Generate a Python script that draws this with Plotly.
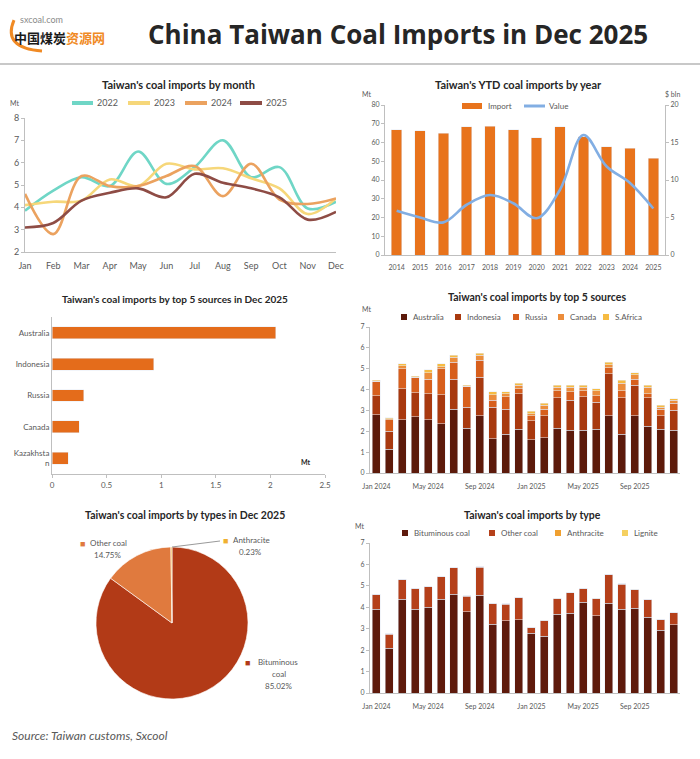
import plotly.graph_objects as go

W, H = 700, 759

# ---------------- DATA ----------------
months = ["Jan", "Feb", "Mar", "Apr", "May", "Jun", "Jul", "Aug", "Sep", "Oct", "Nov", "Dec"]
m2022 = [3.85, 4.75, 5.35, 4.95, 6.5, 5.05, 5.8, 7.0, 5.35, 5.8, 3.95, 4.25]
m2023 = [4.1, 4.25, 4.3, 5.25, 4.95, 5.95, 5.7, 5.75, 5.3, 4.85, 3.7, 4.4]
m2024 = [4.6, 2.8, 5.4, 4.95, 4.95, 5.4, 5.85, 4.5, 5.95, 4.35, 4.15, 4.4]
m2025 = [3.1, 3.3, 4.3, 4.65, 4.85, 4.45, 5.5, 5.1, 4.85, 4.45, 3.45, 3.8]

years = ["2014", "2015", "2016", "2017", "2018", "2019", "2020", "2021", "2022", "2023", "2024", "2025"]
ytd_import = [66.7, 66.3, 64.9, 68.4, 68.8, 66.7, 62.6, 68.4, 63.1, 57.8, 56.9, 51.6]
ytd_value = [5.9, 5.0, 4.35, 6.7, 8.0, 6.9, 4.9, 8.7, 16.0, 11.8, 9.6, 6.2]

dec_sources = ["Australia", "Indonesia", "Russia", "Canada", "Kazakhsta<br>n"]
dec_values = [2.05, 0.93, 0.29, 0.25, 0.15]

periods = ["Jan 2024", "Feb 2024", "Mar 2024", "Apr 2024", "May 2024", "Jun 2024",
           "Jul 2024", "Aug 2024", "Sep 2024", "Oct 2024", "Nov 2024", "Dec 2024",
           "Jan 2025", "Feb 2025", "Mar 2025", "Apr 2025", "May 2025", "Jun 2025",
           "Jul 2025", "Aug 2025", "Sep 2025", "Oct 2025", "Nov 2025", "Dec 2025"]
period_ticks = ["Jan 2024", "May 2024", "Sep 2024", "Jan 2025", "May 2025", "Sep 2025"]

src_australia = [2.8, 1.15, 2.55, 2.7, 2.55, 2.35, 3.05, 2.15, 2.75, 1.65, 1.85, 2.1,
                 1.6, 1.7, 2.15, 2.05, 2.05, 2.1, 2.75, 1.85, 2.75, 2.25, 2.1, 2.05]
src_indonesia = [0.9, 0.85, 1.5, 1.15, 1.25, 1.4, 1.45, 1.0, 1.85, 1.5, 1.2, 1.7,
                 0.9, 1.05, 1.45, 1.45, 1.6, 1.3, 2.0, 1.75, 1.45, 1.35, 0.65, 0.95]
src_russia = [0.7, 0.55, 0.95, 0.75, 0.7, 1.25, 0.8, 1.0, 0.8, 0.35, 0.6, 0.25,
              0.25, 0.3, 0.35, 0.4, 0.3, 0.3, 0.3, 0.35, 0.3, 0.2, 0.3, 0.35]
src_canada = [0.0, 0.05, 0.15, 0.0, 0.3, 0.1, 0.25, 0.0, 0.25, 0.25, 0.15, 0.15,
              0.1, 0.2, 0.15, 0.2, 0.15, 0.25, 0.15, 0.35, 0.2, 0.3, 0.1, 0.15]
src_safrica = [0.05, 0.05, 0.1, 0.05, 0.15, 0.15, 0.1, 0.05, 0.1, 0.15, 0.1, 0.1,
               0.1, 0.1, 0.1, 0.1, 0.1, 0.1, 0.1, 0.15, 0.1, 0.1, 0.1, 0.05]

type_bituminous = [3.9, 2.1, 4.37, 3.9, 4.0, 4.37, 4.62, 3.8, 4.57, 3.22, 3.38, 3.41,
                   2.79, 2.66, 3.67, 3.72, 4.23, 3.61, 4.18, 3.9, 3.95, 3.53, 2.94, 3.19]
type_other = [0.7, 0.65, 0.93, 0.98, 0.96, 1.05, 1.22, 0.72, 1.31, 0.96, 0.77, 1.05,
              0.28, 0.72, 0.74, 0.96, 0.65, 0.8, 1.36, 1.18, 0.88, 0.84, 0.5, 0.55]
type_anthracite = [0.01, 0.01, 0.01, 0.01, 0.01, 0.01, 0.01, 0.01, 0.01, 0.01, 0.01, 0.01,
                   0.01, 0.01, 0.01, 0.01, 0.01, 0.01, 0.01, 0.01, 0.01, 0.01, 0.01, 0.01]
type_lignite = [0.0, 0.0, 0.0, 0.0, 0.0, 0.0, 0.0, 0.0, 0.0, 0.0, 0.0, 0.0,
                0.0, 0.0, 0.0, 0.0, 0.0, 0.0, 0.0, 0.0, 0.0, 0.0, 0.0, 0.0]

pie_labels = ["Bituminous coal", "Other coal", "Anthracite"]
pie_values = [85.02, 14.75, 0.23]

line_names = ["2022", "2023", "2024", "2025"]
src_names = ["Australia", "Indonesia", "Russia", "Canada", "S.Africa"]
type_names = ["Bituminous coal", "Other coal", "Anthracite", "Lignite"]

# ---------------- STYLE ----------------
FONT = "Lato"
TXT = "#595959"
DARK = "#262626"
AXC = "#bfbfbf"
line_cols = ["#6fd6c6", "#f6d77a", "#eba25f", "#8e4c45"]
src_cols = ["#5c1a0b", "#a8390f", "#d75f1d", "#ec8d3b", "#f6bb42"]
type_cols = ["#5e1a0c", "#b5401a", "#f0a030", "#f5d060"]
pie_cols = ["#b23a17", "#e07a3e", "#f0b030"]
import_col = "#e8731c"
value_col = "#82aee3"


def px(x):
    return x / W


def py(y):
    return 1 - y / H


fig = go.Figure()

# Panel 1: monthly lines
for name, vals, col in zip(line_names, [m2022, m2023, m2024, m2025], line_cols):
    fig.add_trace(go.Scatter(x=months, y=vals, name=name, mode="lines", showlegend=False,
                             line=dict(color=col, width=2.6, shape="spline", smoothing=1.0),
                             xaxis="x", yaxis="y"))

# Panel 2: YTD bars + value line
fig.add_trace(go.Bar(x=years, y=ytd_import, name="Import", marker_color=import_col, width=0.45,
                     showlegend=False, xaxis="x2", yaxis="y2"))
fig.add_trace(go.Scatter(x=years, y=ytd_value, name="Value", mode="lines", showlegend=False,
                         line=dict(color=value_col, width=2.6, shape="spline", smoothing=1.0),
                         xaxis="x2", yaxis="y3"))

# Panel 3: Dec sources horizontal bars
fig.add_trace(go.Bar(y=dec_sources, x=dec_values, orientation="h", marker_color="#e46c1b",
                     width=0.38, showlegend=False, xaxis="x4", yaxis="y4"))

# Panel 4: stacked by sources
for name, vals, col in zip(src_names, [src_australia, src_indonesia, src_russia, src_canada, src_safrica], src_cols):
    fig.add_trace(go.Bar(x=periods, y=vals, name=name, marker_color=col, width=0.62,
                         showlegend=False, xaxis="x5", yaxis="y5"))

# Panel 6: stacked by type
for name, vals, col in zip(type_names, [type_bituminous, type_other, type_anthracite, type_lignite], type_cols):
    fig.add_trace(go.Bar(x=periods, y=vals, name=name, marker_color=col, width=0.62,
                         showlegend=False, xaxis="x6", yaxis="y6"))

# Panel 5: pie
pcx, pcy, pr = 172, 623, 76
fig.add_trace(go.Pie(labels=pie_labels, values=pie_values, sort=False, direction="clockwise",
                     rotation=0, textinfo="none", showlegend=False, hoverinfo="label+percent",
                     marker=dict(colors=pie_cols, line=dict(color="#ffffff", width=0.6)),
                     domain=dict(x=[px(pcx - pr), px(pcx + pr)], y=[py(pcy + pr), py(pcy - pr)])))

tickf = dict(family=FONT, size=7, color=TXT)
base_ax = dict(showgrid=False, zeroline=False, showline=True, linecolor=AXC, linewidth=1,
               ticks="outside", ticklen=3, tickcolor=AXC, tickfont=tickf, fixedrange=True,
               automargin=False, tickangle=0)

layout = dict(
    width=W, height=H, margin=dict(l=0, r=0, t=0, b=0, autoexpand=False),
    paper_bgcolor="white", plot_bgcolor="rgba(0,0,0,0)",
    font=dict(family=FONT, size=9, color=TXT),
    barmode="stack", showlegend=False,
    # panel 1
    xaxis=dict(base_ax, domain=[px(25), px(336)], anchor="y", ticks="", ticklabelstandoff=5,
               tickfont=dict(family=FONT, size=9, color=TXT)),
    yaxis=dict(base_ax, domain=[py(252), py(118)], anchor="x", range=[2, 8], dtick=1,
               tickfont=dict(family=FONT, size=9, color=TXT)),
    # panel 2
    xaxis2=dict(base_ax, domain=[px(385), px(665)], anchor="y2", ticks="", ticklabelstandoff=6),
    yaxis2=dict(base_ax, domain=[py(255), py(105)], anchor="x2", range=[0, 80], dtick=10),
    yaxis3=dict(base_ax, overlaying="y2", side="right", anchor="x2", range=[0, 20], dtick=5),
    # panel 3
    xaxis4=dict(base_ax, domain=[px(52), px(325)], anchor="y4", range=[0, 2.5], dtick=0.5,
                tickfont=dict(family=FONT, size=8, color=TXT)),
    yaxis4=dict(base_ax, domain=[py(474), py(317)], anchor="x4", autorange="reversed", ticks="",
                tickfont=dict(family=FONT, size=8, color=TXT)),
    # panel 4
    xaxis5=dict(base_ax, domain=[px(370), px(680)], anchor="y5", tickmode="array",
                tickvals=period_ticks, ticktext=period_ticks, ticks="", ticklabelstandoff=7),
    yaxis5=dict(base_ax, domain=[py(473), py(327)], anchor="x5", range=[0, 7], dtick=1),
    # panel 6
    xaxis6=dict(base_ax, domain=[px(370), px(680)], anchor="y6", tickmode="array",
                tickvals=period_ticks, ticktext=period_ticks, ticks="", ticklabelstandoff=7),
    yaxis6=dict(base_ax, domain=[py(693), py(543)], anchor="x6", range=[0, 7], dtick=1),
)
fig.update_layout(**layout)

ann = []
shapes = []


def add_text(x, y, text, size=9, color=TXT, bold=False, xanchor="center", italic=False, family=FONT):
    t = text
    if bold:
        t = "<b>" + t + "</b>"
    if italic:
        t = "<i>" + t + "</i>"
    ann.append(dict(x=px(x), y=py(y), xref="paper", yref="paper", text=t, showarrow=False,
                    xanchor=xanchor, yanchor="middle", font=dict(family=family, size=size, color=color)))


def leg_line(x0, x1, y, col, name, size=9, width=4):
    shapes.append(dict(type="line", xref="paper", yref="paper", x0=px(x0), x1=px(x1), y0=py(y), y1=py(y),
                       line=dict(color=col, width=width)))
    add_text(x1 + 2, y, name, size=size, xanchor="left")


def leg_box(x0, x1, y, hh, col, name, size=8):
    shapes.append(dict(type="rect", xref="paper", yref="paper", x0=px(x0), x1=px(x1),
                       y0=py(y + hh / 2), y1=py(y - hh / 2), fillcolor=col, line=dict(width=0)))
    add_text(x1 + 4, y, name, size=size, xanchor="left")


# header
add_text(146, 34, "China Taiwan Coal Imports in Dec 2025", size=26, color=DARK, bold=True,
         xanchor="left", family="Open Sans")
add_text(18, 19, "sxcoal.com", size=9, color="#8a8a8a", xanchor="left")
ann.append(dict(x=px(12), y=py(37), xref="paper", yref="paper", showarrow=False, xanchor="left",
                yanchor="middle", text="<b>中国煤炭</b><b><span style='color:#f08a24'>资源网</span></b>",
                font=dict(family="Noto Sans CJK SC", size=13, color="#1a1a1a")))

# panel titles
add_text(178, 85, "Taiwan's coal imports by month", size=11, color=DARK, bold=True)
add_text(518, 85, "Taiwan's YTD coal imports by year", size=11, color=DARK, bold=True)
add_text(175, 299, "Taiwan's coal imports by top 5 sources in Dec 2025", size=10, color=DARK, bold=True)
add_text(537, 297, "Taiwan's coal imports by top 5 sources", size=10.5, color=DARK, bold=True)
add_text(185, 515, "Taiwan's coal imports by types in Dec 2025", size=10.5, color=DARK, bold=True)
add_text(532, 515, "Taiwan's coal imports by type", size=10.5, color=DARK, bold=True)

# legends
for (x0, x1), name, col in zip([(72, 93), (128, 150), (185, 207), (240, 262)], line_names, line_cols):
    leg_line(x0, x1, 103, col, name)
leg_box(462, 482, 106, 6, import_col, "Import")
leg_line(524, 545, 106, value_col, "Value", size=8, width=3)
for x0, name, col in zip([401, 455, 513, 558, 603], src_names, src_cols):
    leg_box(x0, x0 + 6, 317, 6, col, name)
for x0, name, col in zip([402, 489, 555, 622], type_names, type_cols):
    leg_box(x0, x0 + 6, 533, 6, col, name)

# units
add_text(14, 103, "Mt", size=7)
add_text(366, 94, "Mt", size=7)
add_text(672, 94, "$ bln", size=7)
add_text(306, 462, "Mt", size=7, color=DARK, bold=True)
add_text(367, 309, "Mt", size=7)
add_text(360, 526, "Mt", size=7)

# pie labels
add_text(82, 543, "■", size=9, color=pie_cols[1])
add_text(88, 543, "Other coal", size=8, xanchor="left")
add_text(107, 555, "14.75%", size=8)
add_text(225, 540, "■", size=9, color=pie_cols[2])
add_text(231, 540, "Anthracite", size=8, xanchor="left")
add_text(250, 552, "0.23%", size=8)
add_text(247, 662, "■", size=9, color=pie_cols[0])
add_text(256, 662, "Bituminous", size=8, xanchor="left")
add_text(279, 674, "coal", size=8)
add_text(278, 686, "85.02%", size=8)

# source
add_text(10, 735, "Source: Taiwan customs, Sxcool", size=12, color=TXT, italic=True, xanchor="left")

shapes += [
    dict(type="line", xref="paper", yref="paper", x0=0, x1=1, y0=py(64), y1=py(64),
         line=dict(color="#c8c8c8", width=2)),
    dict(type="line", xref="paper", yref="paper", x0=px(pcx), y0=py(pcy - pr), x1=px(220), y1=py(541),
         line=dict(color="#7f7f7f", width=0.8)),
    dict(type="path", xref="paper", yref="paper",
         path="M {:.4f},{:.4f} Q {:.4f},{:.4f} {:.4f},{:.4f}".format(px(14), py(20), px(2), py(48), px(42), py(51)),
         line=dict(color="#f08a24", width=3)),
]

fig.update_layout(annotations=ann, shapes=shapes)
fig.write_html("out.html")
